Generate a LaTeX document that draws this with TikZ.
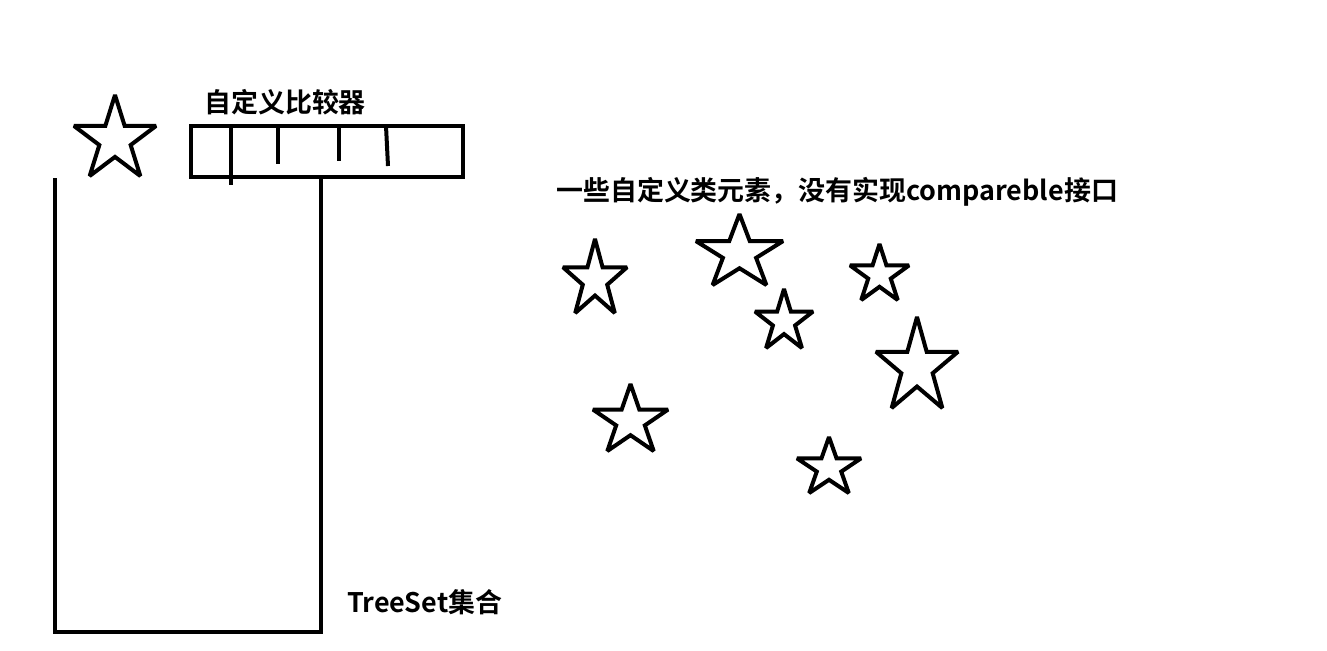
\documentclass[tikz,border=0pt]{standalone}
\usepackage{fontspec}
\setmainfont{Noto Sans CJK SC}[BoldFont={Noto Sans CJK SC Bold}]
\tikzset{
  thick line/.style={line width=3pt, line cap=rect},
  starline/.style={line width=3pt, line join=miter, miter limit=2.2},
  label text/.style={font=\bfseries\fontsize{20.2}{23}\selectfont, inner sep=0pt, anchor=west},
}
\newcommand\drawstar[4]{% left top right bottom (pixels)
  \pgfmathsetmacro\scx{(#1+#3)/2}
  \pgfmathsetmacro\ssx{(#3-#1-4)/1.902}
  \pgfmathsetmacro\ssy{(#4-#2-4)/1.809}
  \pgfmathsetmacro\scy{#2+2+\ssy}
  \draw[starline] ({\scx},{\scy-\ssy})
    \foreach \i in {1,...,9} { -- ({\scx+\ssx*(1-0.618*mod(\i,2))*cos(90+36*\i)},{\scy-\ssy*(1-0.618*mod(\i,2))*sin(90+36*\i)}) } -- cycle;
}
\begin{document}
\begin{tikzpicture}[x=0.75pt,y=-0.75pt]
\useasboundingbox (0,0) rectangle (1327,650);
% TreeSet container
\coordinate (ctl) at (55,180);
\coordinate (cbl) at (55,632);
\coordinate (cbr) at (321,632);
\coordinate (ctr) at (321,178);
\draw[thick line] (ctl) -- (cbl) -- (cbr) -- (ctr);
% comparator box
\coordinate (bl) at (191,126);
\coordinate (br) at (463,177);
\draw[line width=3pt] (bl) rectangle (br);
\draw[line width=3pt] (231,126) -- (231,185);
\draw[line width=3pt] (278,126) -- (278,164);
\draw[line width=3pt] (339,126) -- (339,161);
\draw[line width=3pt] (386,126) -- (388,166);
% labels
\node[label text] (cmp) at (204,102) {自定义比较器};
\node[label text] (elems) at (556,192) {一些自定义类元素，没有实现compareble接口};
\node[label text] (ts) at (347,602) {TreeSet集合};
% stars
\drawstar{72}{93}{158}{178}
\drawstar{561}{237}{629}{315}
\drawstar{694}{212}{785}{287}
\drawstar{848}{242}{911}{302}
\drawstar{753}{287}{815}{350}
\drawstar{874}{315}{960}{410}
\drawstar{591}{382}{670}{453}
\drawstar{795}{435}{863}{495}
\end{tikzpicture}
\end{document}
